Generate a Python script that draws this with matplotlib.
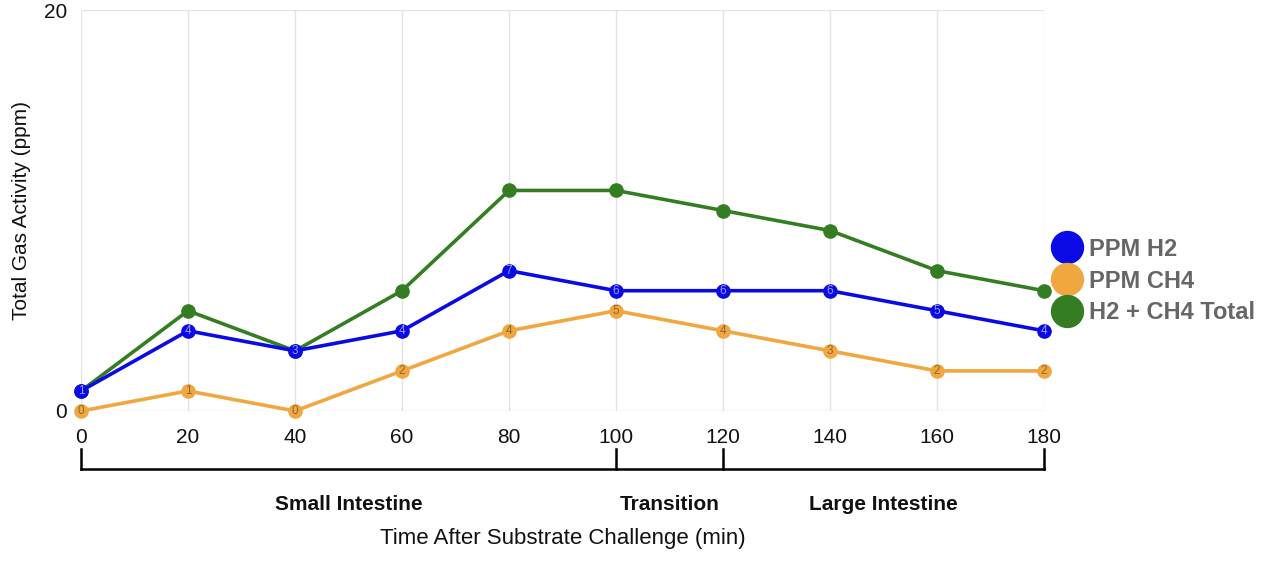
import matplotlib
matplotlib.use("Agg")
import matplotlib.pyplot as plt
from matplotlib.lines import Line2D

plt.rcParams['font.family'] = ['Liberation Sans', 'DejaVu Sans']

time_min = [0, 20, 40, 60, 80, 100, 120, 140, 160, 180]
ppm_h2 = [1, 4, 3, 4, 7, 6, 6, 6, 5, 4]
ppm_ch4 = [0, 1, 0, 2, 4, 5, 4, 3, 2, 2]
total = [1, 5, 3, 6, 11, 11, 10, 9, 7, 6]
series_names = ["PPM H2", "PPM CH4", "H2 + CH4 Total"]
regions = ["Small Intestine", "Transition", "Large Intestine"]
region_bounds = [0, 100, 120, 180]

c_h2 = '#0a0ae6'
c_ch4 = '#f0a73f'
c_tot = '#347d22'

fig = plt.figure(figsize=(12.8, 5.62), dpi=100)
ax = fig.add_axes([81/1280, 1-411/562, (1044-81)/1280, (411-10)/562])
ax.set_xlim(0, 180)
ax.set_ylim(0, 20)

for x in time_min:
    ax.axvline(x, color='#e3e3e3', lw=1, zorder=0)
ax.axhline(20, color='#e3e3e3', lw=1, zorder=0)
ax.axhline(0, color='#d8d8d8', lw=1, zorder=0)
for s in ax.spines.values():
    s.set_visible(False)

ax.plot(time_min, total, color=c_tot, lw=2.6, marker='o', ms=9.5, zorder=3, clip_on=False)
ax.plot(time_min, ppm_h2, color=c_h2, lw=2.6, marker='o', ms=9.5, zorder=4, clip_on=False)
ax.plot(time_min, ppm_ch4, color=c_ch4, lw=2.6, marker='o', ms=9.5, zorder=4, clip_on=False)
for x, v in zip(time_min, ppm_h2):
    ax.text(x, v, str(v), color='#9a9aff', fontsize=8.5, ha='center', va='center', zorder=5)
for x, v in zip(time_min, ppm_ch4):
    ax.text(x, v, str(v), color='#8a6a2e', fontsize=8.5, ha='center', va='center', zorder=5)

ax.set_xticks(time_min)
ax.set_yticks([0, 20])
ax.tick_params(axis='both', length=0, labelsize=15, colors='#111111')
ax.tick_params(axis='x', pad=12)
ax.tick_params(axis='y', pad=10)
fig.text(22/1280, 1-210/562, "Total Gas Activity (ppm)", rotation=90, fontsize=15,
         ha='center', va='center', color='#111111')

# region bracket
yb = -2.9
ax.plot([region_bounds[0], region_bounds[-1]], [yb, yb], color='black', lw=1.8, clip_on=False)
for b in region_bounds:
    ax.plot([b, b], [yb, yb + 1.0], color='black', lw=1.8, clip_on=False)
centers = [(region_bounds[i] + region_bounds[i+1]) / 2 for i in range(3)]
for c, r in zip(centers, regions):
    ax.text(c, -4.65, r, ha='center', va='center', fontsize=15, fontweight='bold', color='#111111', clip_on=False)
ax.text(90, -6.35, "Time After Substrate Challenge (min)", ha='center', va='center', fontsize=16, color='#111111')

handles = [Line2D([0], [0], marker='o', ls='none', ms=23, markerfacecolor=c, markeredgecolor=c)
           for c in (c_h2, c_ch4, c_tot)]
leg = fig.legend(handles, series_names, loc='center left', bbox_to_anchor=(1037/1280, 1-281/562),
                 frameon=False, handlelength=1.5, handletextpad=0.2, labelspacing=0.38, borderpad=0,
                 prop={'size': 17, 'weight': 'bold'})
for t in leg.get_texts():
    t.set_color('#666666')

fig.savefig('out.png', dpi=100)
